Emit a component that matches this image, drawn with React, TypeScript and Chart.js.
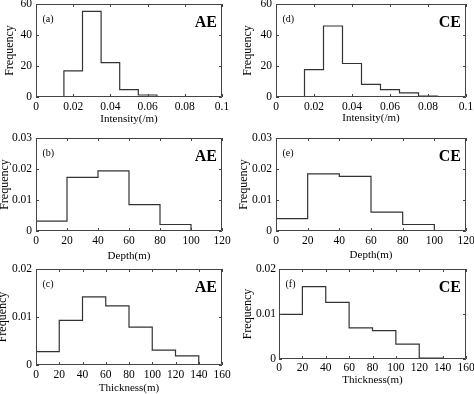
import React, { useEffect, useRef } from 'react';
import { Chart, registerables } from 'chart.js';

Chart.register(...registerables);

// ---------- data ----------
const intensityEdges = [0.015, 0.025, 0.035, 0.045, 0.055, 0.065, 0.075, 0.085];
const aeIntensity = [16.8, 55.2, 22.2, 4.7, 1.3, 0, 0.3];
const ceIntensity = [17.7, 45.8, 21.6, 8.2, 4.7, 2.6, 0.6];

const depthEdges = [0, 20, 40, 60, 80, 100];
const aeDepth = [0.0032, 0.0173, 0.0194, 0.0085, 0.0021];
const ceDepth = [0.004, 0.0184, 0.0176, 0.0061, 0.0021];

const thicknessEdges = [0, 20, 40, 60, 80, 100, 120, 140];
const aeThickness = [0.0028, 0.0093, 0.0142, 0.0123, 0.0079, 0.0031, 0.0019];
const ceThickness = [0.0099, 0.0161, 0.0126, 0.0069, 0.0063, 0.0033, 0.0002];

const intensityTicks = [0, 0.02, 0.04, 0.06, 0.08, 0.1];
const intensityTickLabels = ['0', '0.02', '0.04', '0.06', '0.08', '0.1'];
const depthTicks = [0, 20, 40, 60, 80, 100, 120];
const depthTickLabels = ['0', '20', '40', '60', '80', '100', '120'];
const thicknessTicks = [0, 20, 40, 60, 80, 100, 120, 140, 160];
const thicknessTickLabels = ['0', '20', '40', '60', '80', '100', '120', '140', '160'];

const countTicks = [0, 20, 40, 60];
const countTickLabels = ['0', '20', '40', '60'];
const depthFreqTicks = [0, 0.01, 0.02, 0.03];
const depthFreqTickLabels = ['0', '0.01', '0.02', '0.03'];
const thickFreqTicks = [0, 0.01, 0.02];
const thickFreqTickLabels = ['0', '0.01', '0.02'];

const SERIF = '"Liberation Serif", "Times New Roman", serif';
const LINE = '#333333';
const FRAME = '#444444';

function stairs(edges: number[], values: number[]) {
  const pts: { x: number; y: number }[] = [{ x: edges[0], y: 0 }];
  values.forEach((v, i) => pts.push({ x: edges[i], y: v }));
  pts.push({ x: edges[edges.length - 1], y: 0 });
  return pts;
}

type PanelDef = {
  cell: [number, number, number, number];
  plot: [number, number, number, number]; // L T R B
  edges: number[];
  values: number[];
  xTicks: number[];
  xLabels: string[];
  yTicks: number[];
  yLabels: string[];
  xTitle: string;
  tag: string;
  group: string;
  xTickPad: number;
  xTitlePadBottom: number;
  yTitlePad: number;
  yTickPad: number;
};

const panels: PanelDef[] = [
  {
    cell: [0, 0, 237, 131], plot: [36, 4, 222, 97],
    edges: intensityEdges, values: aeIntensity,
    xTicks: intensityTicks, xLabels: intensityTickLabels,
    yTicks: countTicks, yLabels: countTickLabels,
    xTitle: 'Intensity(/m)', tag: '(a)', group: 'AE',
    xTickPad: 3.1, xTitlePadBottom: 5.4, yTitlePad: 2.8, yTickPad: 4,
  },
  {
    cell: [237, 0, 237, 131], plot: [276, 4, 466, 97],
    edges: intensityEdges, values: ceIntensity,
    xTicks: intensityTicks, xLabels: intensityTickLabels,
    yTicks: countTicks, yLabels: countTickLabels,
    xTitle: 'Intensity(/m)', tag: '(d)', group: 'CE',
    xTickPad: 3.1, xTitlePadBottom: 6.4, yTitlePad: 3.8, yTickPad: 4,
  },
  {
    cell: [0, 131, 237, 131], plot: [36, 138, 222, 231],
    edges: depthEdges, values: aeDepth,
    xTicks: depthTicks, xLabels: depthTickLabels,
    yTicks: depthFreqTicks, yLabels: depthFreqTickLabels,
    xTitle: 'Depth(m)', tag: '(b)', group: 'AE',
    xTickPad: 3.1, xTitlePadBottom: -0.6, yTitlePad: -2.2, yTickPad: 4,
  },
  {
    cell: [237, 131, 237, 131], plot: [276, 138, 466, 231],
    edges: depthEdges, values: ceDepth,
    xTicks: depthTicks, xLabels: depthTickLabels,
    yTicks: depthFreqTicks, yLabels: depthFreqTickLabels,
    xTitle: 'Depth(m)', tag: '(e)', group: 'CE',
    xTickPad: 2.6, xTitlePadBottom: 0.4, yTitlePad: -0.2, yTickPad: 4,
  },
  {
    cell: [0, 262, 237, 132], plot: [36, 269, 222, 365],
    edges: thicknessEdges, values: aeThickness,
    xTicks: thicknessTicks, xLabels: thicknessTickLabels,
    yTicks: thickFreqTicks, yLabels: thickFreqTickLabels,
    xTitle: 'Thickness(m)', tag: '(c)', group: 'AE',
    xTickPad: 3.1, xTitlePadBottom: -0.6, yTitlePad: -4.2, yTickPad: 4,
  },
  {
    cell: [237, 262, 237, 132], plot: [279, 269, 466, 359],
    edges: thicknessEdges, values: ceThickness,
    xTicks: thicknessTicks, xLabels: thicknessTickLabels,
    yTicks: thickFreqTicks, yLabels: thickFreqTickLabels,
    xTitle: 'Thickness(m)', tag: '(f)', group: 'CE',
    xTickPad: 2.1, xTitlePadBottom: 7.4, yTitlePad: 3.8, yTickPad: 3,
  },
];

const framePlugin = (p: PanelDef) => ({
  id: 'frameAndTicks',
  afterDraw(chart: any) {
    const { ctx, chartArea: a, scales } = chart;
    const xs = scales.x;
    const ys = scales.y;
    ctx.save();
    ctx.strokeStyle = FRAME;
    ctx.lineWidth = 1;
    ctx.beginPath();
    ctx.rect(a.left + 0.5, a.top + 0.5, a.right - a.left - 1, a.bottom - a.top - 1);
    ctx.stroke();
    const tl = 3;
    ctx.beginPath();
    p.xTicks.forEach((v) => {
      const px = Math.round(xs.getPixelForValue(v)) + 0.5;
      ctx.moveTo(px, a.bottom);
      ctx.lineTo(px, a.bottom - tl);
      ctx.moveTo(px, a.top);
      ctx.lineTo(px, a.top + tl);
    });
    p.yTicks.forEach((v) => {
      const py = Math.round(ys.getPixelForValue(v)) + 0.5;
      ctx.moveTo(a.left, py);
      ctx.lineTo(a.left + tl, py);
      ctx.moveTo(a.right, py);
      ctx.lineTo(a.right - tl, py);
    });
    ctx.stroke();

    ctx.fillStyle = '#000';
    ctx.textBaseline = 'middle';
    ctx.textAlign = 'left';
    ctx.font = `10px ${SERIF}`;
    ctx.fillText(p.tag, a.left + 6.5, a.top + 15);
    ctx.textAlign = 'right';
    ctx.font = `bold 16px ${SERIF}`;
    ctx.fillText(p.group, a.right - 5, a.top + 18.5);
    ctx.restore();
  },
});

function Panel({ p }: { p: PanelDef }) {
  const ref = useRef<HTMLCanvasElement | null>(null);
  useEffect(() => {
    if (!ref.current) return;
    const [cx, cy, cw, ch] = p.cell;
    const [L, T, R, B] = p.plot;
    const chart = new Chart(ref.current, {
      type: 'line',
      data: {
        datasets: [
          {
            data: stairs(p.edges, p.values),
            stepped: 'before',
            borderColor: LINE,
            borderWidth: 1.2,
            pointRadius: 0,
            fill: false,
          },
        ],
      },
      options: {
        animation: false,
        responsive: false,
        maintainAspectRatio: false,
        events: [],
        layout: { padding: { left: 0, top: T - cy, right: cx + cw - R, bottom: 0 } },
        plugins: { legend: { display: false }, tooltip: { enabled: false } },
        scales: {
          x: {
            type: 'linear',
            min: p.xTicks[0],
            max: p.xTicks[p.xTicks.length - 1],
            afterBuildTicks: (s: any) => {
              s.ticks = p.xTicks.map((v) => ({ value: v }));
            },
            afterFit: (s: any) => {
              s.height = cy + ch - B;
              s.paddingLeft = 0;
              s.paddingRight = 0;
            },
            ticks: {
              callback: (_v: any, i: number) => p.xLabels[i],
              padding: p.xTickPad,
              color: '#000',
              font: { family: SERIF, size: 11.5 },
              autoSkip: false,
              maxRotation: 0,
              minRotation: 0,
            },
            grid: { display: false, drawTicks: false },
            border: { display: false },
            title: {
              display: true,
              text: p.xTitle,
              color: '#000',
              font: { family: SERIF, size: 11 },
              padding: { top: 0, bottom: p.xTitlePadBottom },
            },
          },
          y: {
            type: 'linear',
            min: p.yTicks[0],
            max: p.yTicks[p.yTicks.length - 1],
            afterBuildTicks: (s: any) => {
              s.ticks = p.yTicks.map((v) => ({ value: v }));
            },
            afterFit: (s: any) => {
              s.width = L - cx;
              s.paddingTop = 0;
              s.paddingBottom = 0;
            },
            ticks: {
              callback: (_v: any, i: number) => p.yLabels[i],
              padding: p.yTickPad,
              color: '#000',
              font: { family: SERIF, size: 11.5 },
              autoSkip: false,
            },
            grid: { display: false, drawTicks: false },
            border: { display: false },
            title: {
              display: true,
              text: 'Frequency',
              color: '#000',
              font: { family: SERIF, size: 12 },
              padding: { top: p.yTitlePad, bottom: 0 },
            },
          },
        },
      },
      plugins: [framePlugin(p)],
    } as any);
    return () => chart.destroy();
  }, [p]);
  const [cx, cy, cw, ch] = p.cell;
  return (
    <canvas
      ref={ref}
      width={cw}
      height={ch}
      style={{ position: 'absolute', left: cx, top: cy, width: cw, height: ch }}
    />
  );
}

export default function App() {
  return (
    <div
      style={{
        position: 'absolute',
        left: 0,
        top: 0,
        width: 474,
        height: 394,
        background: '#fff',
        overflow: 'hidden',
      }}
    >
      {panels.map((p, i) => (
        <Panel key={i} p={p} />
      ))}
    </div>
  );
}
